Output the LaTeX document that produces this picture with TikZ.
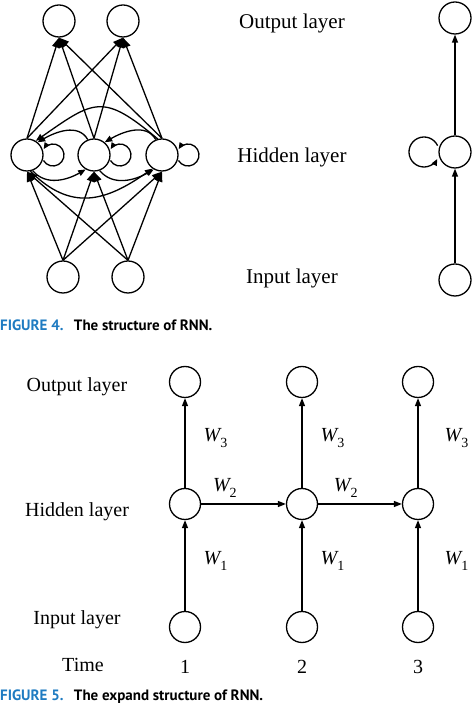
\documentclass[tikz,border=0pt]{standalone}
\usepackage{fontspec}
\setmainfont{Liberation Serif}
\newfontfamily\capfont{PT Sans}
\usetikzlibrary{arrows.meta,calc}
\definecolor{capblue}{HTML}{1F7BC1}
\begin{document}
\begin{tikzpicture}[x=1pt,y=1pt,
  neuron/.style={circle, draw, line width=1.3pt, minimum size=32pt, inner sep=0pt},
  neuronb/.style={circle, draw, line width=1.3pt, minimum size=31pt, inner sep=0pt},
  lbl/.style={font=\fontsize{21}{24}\selectfont, inner sep=0pt},
  lblb/.style={font=\fontsize{20}{23}\selectfont, inner sep=0pt},
  wlbl/.style={font=\fontsize{20}{23}\selectfont\itshape, inner sep=0pt},
  capt/.style={anchor=west, inner sep=0pt, font=\capfont\bfseries\fontsize{15}{17}\selectfont},
  conn/.style={line width=1.3pt, -{Triangle[length=10pt,width=8pt]}},
  arc/.style={line width=1.3pt, -{Triangle[length=7.5pt,width=6pt]}},
  loopar/.style={line width=1.3pt, -{Triangle[length=6.5pt,width=5.5pt]}},
  connb/.style={line width=1.3pt, -{Triangle[length=8pt,width=6pt]}}
]
\useasboundingbox (0,0) rectangle (474,707);

% ---------- Figure 4 left ----------
\node[neuron] (o1) at (59,686) {};
\node[neuron] (o2) at (123,686) {};
\node[neuron] (h1) at (27,552) {};
\node[neuron] (h2) at (94,552) {};
\node[neuron] (h3) at (162,552) {};
\node[neuron] (i1) at (63,430) {};
\node[neuron] (i2) at (128,430) {};

\foreach \h in {h1,h2,h3}{
  \foreach \o in {o1,o2}{\draw[conn] (\h.north) -- (\o.south);}
  \foreach \i in {i1,i2}{\draw[conn] (\i.north) -- (\h.south);}
}

% recurrent arcs
\draw[arc] (h2.112) to[out=120,in=30] (h1.50);
\draw[arc] (h3.112) to[out=120,in=30] (h2.50);
\draw[arc] (h3.105) to[out=140,in=35,looseness=1.5] (h1.58);
\draw[arc] (h1.-70) to[out=-50,in=-150] (h2.-120);
\draw[arc] (h2.-70) to[out=-50,in=-150] (h3.-120);
\draw[arc] (h1.-78) to[out=-45,in=-145,looseness=1.2] (h3.-125);

% self loops
\coordinate (l1) at (53,552);
\coordinate (l2) at (120,552);
\coordinate (l3) at (188,552);
\foreach \l in {l1,l2,l3}{
  \draw[loopar] ($(\l)+(-150:11)$) arc[start angle=-150, end angle=148, radius=11];
}

% ---------- Figure 4 right ----------
\node[lbl] (tOut) at (292,684) {Output layer};
\node[lbl] (tHid) at (292,550) {Hidden layer};
\node[lbl] (tIn) at (292,429) {Input layer};
\node[neuron] (ro) at (455,689) {};
\node[neuron] (rh) at (455,555) {};
\node[neuron] (ri) at (455,427) {};
\draw[connb] (ri) -- (rh);
\draw[connb] (rh) -- (ro);
\coordinate (rl) at (424,555);
\draw[loopar] ($(rl)+(25:15)$) arc[start angle=25, end angle=332, radius=15];

\node[capt] (cap4) at (0,382) {\textcolor{capblue}{FIGURE 4.}\hspace{0.7em}The structure of RNN.};

% ---------- Figure 5 ----------
\node[lblb] (fOut) at (77,320) {Output layer};
\node[lblb] (fHid) at (77,195) {Hidden layer};
\node[lblb] (fIn) at (77,87) {Input layer};
\node[lblb] (fTime) at (83,42) {Time};

\foreach \n/\x/\xs in {1/185/18, 2/302/18, 3/418/26}{
  \node[neuronb] (eo\n) at (\x,325) {};
  \node[neuronb] (eh\n) at (\x,203) {};
  \node[neuronb] (ei\n) at (\x,80) {};
  \node[lblb] (et\n) at (\x,40) {\n};
  \draw[connb] (eh\n) -- node[wlbl, anchor=west, pos=0.55, xshift=\xs pt] {W\raisebox{-0.3em}{\upshape\fontsize{14}{16}\selectfont 3}} (eo\n);
  \draw[connb] (ei\n) -- node[wlbl, anchor=west, pos=0.55, xshift=\xs pt] {W\raisebox{-0.3em}{\upshape\fontsize{14}{16}\selectfont 1}} (eh\n);
}
\draw[connb] (eh1) -- node[wlbl, pos=0.28, above=6pt] {W\raisebox{-0.3em}{\upshape\fontsize{14}{16}\selectfont 2}} (eh2);
\draw[connb] (eh2) -- node[wlbl, pos=0.33, above=6pt] {W\raisebox{-0.3em}{\upshape\fontsize{14}{16}\selectfont 2}} (eh3);

\node[capt] (cap5) at (0,10) {\textcolor{capblue}{FIGURE 5.}\hspace{0.7em}The expand structure of RNN.};
\end{tikzpicture}
\end{document}
